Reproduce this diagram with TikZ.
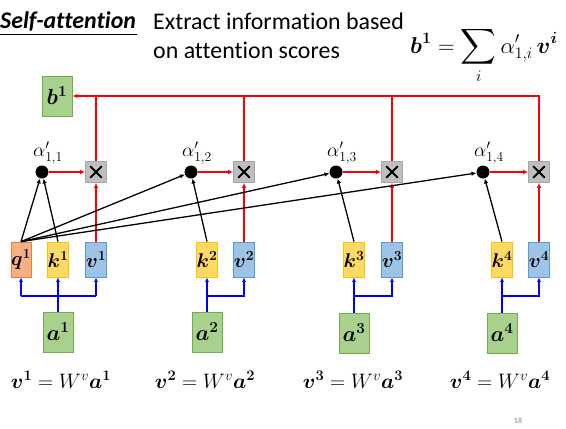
\RequirePackage{fix-cm}
\documentclass[tikz,border=0pt]{standalone}
\usepackage{amsmath,bm}
\usepackage[no-math]{fontspec}
\setmainfont{Carlito}[Ligatures={NoCommon}]
\usetikzlibrary{arrows.meta}
\definecolor{gfill}{RGB}{169,209,142}
\definecolor{gdraw}{RGB}{112,173,71}
\definecolor{qfill}{RGB}{244,177,131}
\definecolor{qdraw}{RGB}{237,125,49}
\definecolor{kfill}{RGB}{255,217,102}
\definecolor{kdraw}{RGB}{255,192,0}
\definecolor{vfill}{RGB}{157,195,230}
\definecolor{vdraw}{RGB}{91,155,213}
\definecolor{xfill}{RGB}{191,191,191}
\definecolor{xdraw}{RGB}{166,166,166}
\tikzset{
  vecbox/.style={draw, line width=0.8pt, minimum width=19bp, minimum height=35bp, inner sep=0pt, font=\fontsize{20}{22}\selectfont},
  qbox/.style={vecbox, fill=qfill, draw=qdraw},
  kbox/.style={vecbox, fill=kfill, draw=kdraw},
  vbox/.style={vecbox, fill=vfill, draw=vdraw},
  inbox/.style={draw=gdraw, fill=gfill, line width=0.8pt, minimum width=30bp, minimum height=40bp, inner sep=0pt, font=\fontsize{22}{26}\selectfont},
  mulbox/.style={draw=xdraw, fill=xfill, line width=0.8pt, minimum size=21bp, inner sep=0pt},
  attdot/.style={circle, fill=black, minimum size=13bp, inner sep=0pt},
  alab/.style={inner sep=0pt, font=\fontsize{19.5}{22}\selectfont},
  redline/.style={red, line width=1.3pt},
  redarr/.style={red, line width=1.3pt, -{Latex[length=5pt,width=4.5pt]}},
  blkarr/.style={black, line width=1.3pt, -{Latex[length=5pt,width=4.5pt]}},
  bluline/.style={blue, line width=1.4pt},
  bluarr/.style={blue, line width=1.4pt, -{Latex[length=4.5pt,width=4pt]}},
  eqn/.style={inner sep=0pt, anchor=base, font=\fontsize{21}{24}\selectfont},
}
\begin{document}
\begin{tikzpicture}[x=1bp,y=-1bp]
\useasboundingbox (0,0) rectangle (566,428);
% header
\node[anchor=base west, inner sep=0pt, font=\fontsize{24}{29}\selectfont\bfseries\itshape] (title) at (0,28) {Self-attention};
\draw[line width=0.9pt] (0,34) -- (137,34);
\node[anchor=base west, inner sep=0pt, font=\fontsize{24}{29}\selectfont] (desc1) at (153,29) {Extract information based};
\node[anchor=base west, inner sep=0pt, font=\fontsize{24}{29}\selectfont] (desc2) at (153,58) {on attention scores};
\node[anchor=base west, inner sep=0pt, font=\fontsize{23}{27}\selectfont] (eq) at (410,53) {$\displaystyle \bm{b}^{\mathbf{1}} = \sum_i \alpha'_{1,i}\,\bm{v}^{\bm{i}}$};
% output
\node[inbox] (b1) at (57,96) {$\bm{b}^{\mathbf{1}}$};
% q k v
\node[qbox] (q1) at (21,259.5) {$\bm{q}^{\mathbf{1}}$};
\node[kbox] (k1) at (58,259.5) {$\bm{k}^{\mathbf{1}}$};
\node[vbox] (v1) at (96,259.5) {$\bm{v}^{\mathbf{1}}$};
\node[kbox] (k2) at (207,259.5) {$\bm{k}^{\mathbf{2}}$};
\node[vbox] (v2) at (244,259.5) {$\bm{v}^{\mathbf{2}}$};
\node[kbox] (k3) at (354,259.5) {$\bm{k}^{\mathbf{3}}$};
\node[vbox] (v3) at (392,259.5) {$\bm{v}^{\mathbf{3}}$};
\node[kbox] (k4) at (502,259.5) {$\bm{k}^{\mathbf{4}}$};
\node[vbox] (v4) at (539,259.5) {$\bm{v}^{\mathbf{4}}$};
% inputs
\node[inbox] (a1) at (58,332) {$\bm{a}^{\mathbf{1}}$};
\node[inbox] (a2) at (207,332) {$\bm{a}^{\mathbf{2}}$};
\node[inbox] (a3) at (354,333) {$\bm{a}^{\mathbf{3}}$};
\node[inbox] (a4) at (502,333) {$\bm{a}^{\mathbf{4}}$};
% dots and multipliers
\node[attdot] (d1) at (42,172) {};
\node[attdot] (d2) at (191,172) {};
\node[attdot] (d3) at (336,172) {};
\node[attdot] (d4) at (483,172) {};
\node[alab] (l1) at (48,153) {$\alpha'_{1,1}$};
\node[alab] (l2) at (197,153) {$\alpha'_{1,2}$};
\node[alab] (l3) at (342,153) {$\alpha'_{1,3}$};
\node[alab] (l4) at (489,153) {$\alpha'_{1,4}$};
\foreach \i/\x in {1/96,2/244,3/392,4/539}{
  \node[mulbox] (m\i) at (\x,172) {};
  \draw[line width=2pt, line cap=round] ([shift={(-5.5pt,-5.5pt)}]m\i.center) -- ([shift={(5.5pt,5.5pt)}]m\i.center);
  \draw[line width=2pt, line cap=round] ([shift={(-5.5pt,5.5pt)}]m\i.center) -- ([shift={(5.5pt,-5.5pt)}]m\i.center);
}
% red: weighted sum
\draw[redarr] (m4.north) |- (b1.east);
\foreach \i in {1,2,3}{ \draw[redline] (m\i.north) -- (m\i.north |- b1.east); }
\foreach \i in {1,2,3,4}{
  \draw[redarr] (d\i.east) -- (m\i.west);
  \draw[redarr] (v\i.north) -- (m\i.south);
}
% black: attention scores
\draw[blkarr] (q1.north) -- (d1);
\draw[blkarr] (k1.north) -- (d1);
\draw[blkarr] (q1.north) -- (d2);
\draw[blkarr] (q1.north) -- (d3);
\draw[blkarr] (q1.north) -- (d4);
\draw[blkarr] (k2.north) -- (d2);
\draw[blkarr] (k3.north) -- (d3);
\draw[blkarr] (k4.north) -- (d4);
% blue: projections
\coordinate (h) at (0,296);
\draw[bluline] (q1.south |- h) -- (v1.south |- h);
\draw[bluarr] (q1.south |- h) -- (q1.south);
\draw[bluarr] (v1.south |- h) -- (v1.south);
\draw[bluarr] (a1.north) -- (k1.south);
\foreach \i in {2,3,4}{
  \draw[bluarr] (a\i.north) -- (k\i.south);
  \draw[bluarr] (a\i.north |- h) -| (v\i.south);
}
% equations
\node[eqn] (e1) at (61,388) {$\bm{v}^{\mathbf{1}} = W^{v}\bm{a}^{\mathbf{1}}$};
\node[eqn] (e2) at (205,388) {$\bm{v}^{\mathbf{2}} = W^{v}\bm{a}^{\mathbf{2}}$};
\node[eqn] (e3) at (353,388) {$\bm{v}^{\mathbf{3}} = W^{v}\bm{a}^{\mathbf{3}}$};
\node[eqn] (e4) at (500,388) {$\bm{v}^{\mathbf{4}} = W^{v}\bm{a}^{\mathbf{4}}$};
\node[inner sep=0pt, text=gray, font=\fontsize{8}{9}\selectfont] (pg) at (518,421) {18};
\end{tikzpicture}
\end{document}
